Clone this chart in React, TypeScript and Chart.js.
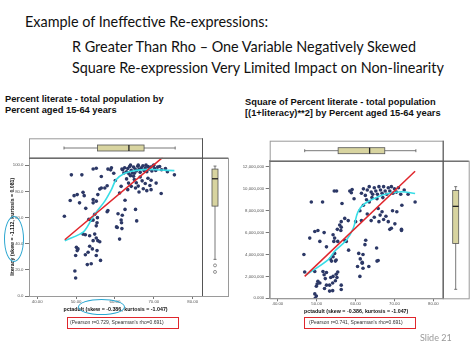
import React, { useEffect, useRef } from "react";
import { Chart, registerables } from "chart.js";
Chart.register(...registerables);

// ---------- data ----------
const xTicks = [40, 50, 60, 70, 80];
const leftYTicks = [0, 20, 40, 60, 80, 100];
const rightYTicks = [0, 2000000, 4000000, 6000000, 8000000, 10000000, 12000000];

// pctadult (x) vs literacy (y)
const leftPoints: number[][] = [
  [47.0, 61.0], [49.7, 19.1], [49.9, 13.8], [49.9, 30.9], [50.1, 37.2], [50.5, 36.0], [50.3, 34.7],
  [51.8, 47.3], [52.4, 46.8], [53.5, 46.0], [54.8, 47.3], [55.2, 44.3], [54.4, 42.3], [55.6, 42.3],
  [56.1, 41.5], [53.5, 38.0], [54.2, 36.0], [55.4, 34.7], [53.1, 33.4], [52.4, 31.5], [55.2, 30.9],
  [56.3, 27.2], [52.9, 24.0], [53.9, 24.7], [55.2, 53.6], [55.4, 56.0], [54.4, 58.0],
  [60.6, 52.3], [61.8, 51.5], [61.2, 43.5], [60.4, 52.8], [61.7, 56.0], [65.6, 57.4], [58.0, 64.4],
  [60.8, 62.9], [61.9, 61.7], [61.6, 58.1], [62.6, 66.2], [65.3, 66.2], [58.2, 65.4], [54.8, 62.4],
  [55.5, 59.9], [53.3, 58.6], [53.9, 57.9], [52.5, 67.0],
  [48.5, 73.0], [50.9, 71.2], [50.3, 77.5], [49.5, 76.7], [51.8, 79.2], [52.1, 76.7], [54.4, 73.7],
  [54.4, 71.2], [55.2, 72.5], [55.6, 77.5], [56.1, 81.7], [56.5, 82.5], [58.0, 84.3], [57.4, 82.5],
  [60.1, 88.3], [59.7, 93.8], [56.5, 91.3], [48.8, 92.6], [51.5, 92.6], [54.4, 97.1], [55.2, 97.6],
  [58.2, 97.0], [59.1, 98.0], [58.9, 96.4],
  [62.6, 73.2], [61.2, 78.7], [63.3, 81.3], [63.5, 86.3], [64.2, 83.8], [61.6, 83.8],
  [65.0, 89.0], [65.5, 86.5], [66.0, 84.0], [66.5, 91.0], [67.0, 88.0], [67.3, 82.0], [67.8, 86.0],
  [68.2, 80.5], [68.5, 90.0], [69.0, 84.5], [66.2, 79.5], [65.3, 82.5], [69.3, 88.5], [64.8, 91.5],
  [70.6, 86.3], [69.3, 81.3], [71.9, 78.3], [75.3, 92.6], [63.0, 89.5], [64.0, 92.0],
  [62.0, 96.5], [62.5, 98.0], [63.0, 95.0], [63.3, 97.5], [63.8, 99.0], [64.2, 96.0], [64.5, 94.0],
  [64.8, 98.5], [65.2, 97.0], [65.5, 95.5], [65.9, 99.2], [66.2, 96.8], [66.5, 94.5], [66.8, 98.0],
  [67.2, 99.5], [67.5, 96.0], [67.8, 97.8], [68.2, 95.0], [68.5, 99.0], [68.8, 97.0], [69.2, 98.5],
  [69.5, 95.5], [69.8, 99.3], [70.2, 97.5], [70.5, 96.0], [71.0, 98.5], [71.5, 99.0], [72.0, 96.5],
  [73.0, 97.5], [73.5, 95.0], [62.3, 94.0], [63.6, 93.5], [65.0, 93.8], [66.0, 100.0], [68.0, 100.0],
  [70.0, 100.0], [64.0, 100.0], [61.8, 97.0],
];
const leftFit: number[][] = [[47.1, 43.0], [72.3, 106.0]];
const leftLoess: number[][] = [
  [47.1, 42.3], [51.0, 47.3], [52.2, 49.8], [54.8, 62.4], [57.4, 72.5], [59.1, 81.3], [60.3, 88.8],
  [62.5, 93.8], [65.0, 95.8], [68.5, 96.8], [71.9, 96.3], [75.3, 95.8],
];

// pctadult (x) vs (1+literacy)**2 (y)
const rightPoints: number[][] = [
  [46.7, 4.0e6], [46.9, 2.4e6], [48.2, 5.5e6], [49.5, 6.1e6], [50.3, 6.2e6], [51.9, 6.0e6], [50.8, 5.2e6],
  [52.5, 4.7e6], [54.2, 5.8e6], [54.6, 5.5e6], [54.4, 5.2e6], [55.4, 5.2e6], [56.2, 6.2e6], [57.2, 5.3e6],
  [57.6, 5.2e6], [58.2, 4.4e6], [60.8, 4.1e6], [61.9, 4.0e6], [61.7, 3.2e6], [60.5, 2.9e6], [61.9, 2.75e6],
  [61.1, 2.0e6], [62.6, 5.3e6], [62.4, 4.9e6], [65.4, 4.6e6], [65.8, 3.45e6], [68.8, 6.3e6], [71.8, 6.3e6],
  [53.8, 3.4e6], [54.2, 3.8e6], [54.6, 4.1e6], [55.0, 3.5e6], [53.5, 3.6e6], [54.8, 3.4e6],
  [49.5, 2.45e6], [51.6, 2.45e6], [52.5, 2.36e6], [51.9, 2.15e6], [50.3, 1.55e6], [50.1, 1.3e6],
  [49.9, 1.1e6], [50.8, 1.4e6], [52.2, 1.8e6], [52.5, 1.2e6], [53.3, 1.2e6], [54.1, 1.4e6], [54.8, 1.6e6],
  [55.2, 1.9e6], [54.2, 2.0e6], [55.0, 2.2e6], [55.4, 2.4e6], [56.3, 1.2e6], [53.6, 1.9e6], [52.0, 0.9e6],
  [49.5, 0.4e6], [49.9, 0.2e6], [49.6, 0.0], [53.3, 0.66e6], [54.1, 0.7e6], [56.3, 0.8e6],
  [63.4, 2.9e6], [61.7, 3.3e6], [61.2, 3.6e6], [65.5, 3.4e6],
  [48.6, 8.8e6], [51.5, 8.8e6], [54.5, 9.8e6], [55.1, 9.8e6], [56.5, 8.66e6], [58.5, 9.8e6], [59.1, 9.94e6],
  [58.9, 9.64e6], [59.6, 9.1e6], [61.1, 8.0e6], [60.0, 7.0e6], [75.3, 8.8e6],
  [65.8, 8.2e6], [66.3, 7.6e6], [66.8, 7.9e6], [67.2, 7.2e6], [67.8, 7.5e6], [68.4, 7.0e6], [66.0, 7.0e6],
  [69.2, 6.4e6], [70.1, 6.8e6], [71.8, 6.2e6], [63.0, 7.7e6], [64.0, 7.1e6], [64.8, 7.4e6], [61.5, 7.1e6],
  [57.2, 7.3e6], [58.1, 7.1e6], [56.3, 7.0e6], [55.9, 6.7e6], [55.3, 6.3e6], [56.3, 6.5e6], [62.0, 8.5e6],
  [63.5, 8.8e6], [69.5, 8.0e6], [71.9, 8.5e6], [70.6, 7.9e6],
  [61.5, 9.6e6], [62.0, 10.0e6], [62.5, 9.4e6], [63.0, 9.9e6], [63.5, 10.2e6], [64.0, 9.7e6], [64.4, 9.5e6],
  [64.8, 10.1e6], [65.2, 9.8e6], [65.6, 9.5e6], [66.0, 10.2e6], [66.4, 9.9e6], [66.8, 9.6e6], [67.2, 10.2e6],
  [67.6, 9.8e6], [68.0, 9.5e6], [68.4, 10.1e6], [68.8, 9.8e6], [69.2, 10.2e6], [69.6, 9.6e6], [70.0, 10.0e6],
  [70.5, 9.7e6], [71.0, 10.1e6], [71.6, 9.5e6], [72.5, 9.9e6], [73.5, 9.5e6], [62.8, 9.0e6], [64.2, 9.2e6],
  [65.5, 9.1e6], [67.0, 9.2e6],
];
const rightFit: number[][] = [[46.9, 2.0e6], [75.3, 11.6e6]];
const rightLoess: number[][] = [
  [47.3, 2.15e6], [52.9, 3.5e6], [54.6, 4.3e6], [57.6, 5.3e6], [59.4, 6.4e6], [60.6, 7.9e6],
  [62.4, 8.66e6], [65.8, 9.27e6], [68.4, 9.57e6], [71.8, 9.73e6], [75.3, 9.57e6],
];

// boxplots: [whisker low, Q1, median, Q3, whisker high]
const pctadultBox = [46.9, 55.5, 63.6, 67.5, 75.5];
const literacyBox = [28.0, 68.7, 89.6, 97.0, 99.3];
const literacyOutliers = [23.4, 18.4];
const sqLiteracyBox = [820000, 5000000, 8400000, 9850000, 10200000];
const sqLiteracyOutliers: number[] = [];

// ---------- chart helpers ----------
const FONT = "'Liberation Sans', Arial, sans-serif";
const POINT = "#2c3866";
const RED = "#e0262c";
const CYAN = "#38dde6";
const BOXFILL = "#d8d4a0";

function marginalPlugin(xBox: number[], yBox: number[], yOut: number[], topH: number, sideW: number) {
  return {
    id: "marginal",
    afterDraw(chart: any) {
      const { ctx, chartArea: a, scales } = chart;
      const xs = scales.x, ys = scales.y;
      ctx.save();
      ctx.lineWidth = 1;
      ctx.strokeStyle = "#9a9a9a";
      ctx.strokeRect(a.left + 0.5, a.top - topH + 0.5, a.right - a.left, topH);
      ctx.strokeRect(a.right + 0.5, a.top + 0.5, sideW, a.bottom - a.top);
      ctx.strokeRect(a.left + 0.5, a.top + 0.5, a.right - a.left, a.bottom - a.top);
      ctx.strokeStyle = "#555";
      ctx.beginPath();
      ctx.moveTo(a.left, a.top + 0.5);
      ctx.lineTo(a.right + sideW, a.top + 0.5);
      ctx.moveTo(a.right + 0.5, a.top - topH);
      ctx.lineTo(a.right + 0.5, a.bottom);
      ctx.stroke();

      // top (x) boxplot
      const cy = a.top - topH / 2;
      const px = (v: number) => xs.getPixelForValue(v);
      ctx.strokeStyle = "#555";
      ctx.lineWidth = 0.8;
      ctx.beginPath();
      ctx.moveTo(px(xBox[0]), cy);
      ctx.lineTo(px(xBox[4]), cy);
      ctx.moveTo(px(xBox[0]), cy - 1.5);
      ctx.lineTo(px(xBox[0]), cy + 1.5);
      ctx.moveTo(px(xBox[4]), cy - 1.5);
      ctx.lineTo(px(xBox[4]), cy + 1.5);
      ctx.stroke();
      ctx.fillStyle = BOXFILL;
      ctx.fillRect(px(xBox[1]), cy - 3, px(xBox[3]) - px(xBox[1]), 6);
      ctx.strokeRect(px(xBox[1]), cy - 3, px(xBox[3]) - px(xBox[1]), 6);
      ctx.lineWidth = 1.3;
      ctx.strokeStyle = "#222";
      ctx.beginPath();
      ctx.moveTo(px(xBox[2]), cy - 3);
      ctx.lineTo(px(xBox[2]), cy + 3);
      ctx.stroke();

      // side (y) boxplot
      const cx = a.right + sideW / 2;
      const py = (v: number) => ys.getPixelForValue(v);
      ctx.strokeStyle = "#555";
      ctx.lineWidth = 0.8;
      ctx.beginPath();
      ctx.moveTo(cx, py(yBox[0]));
      ctx.lineTo(cx, py(yBox[4]));
      ctx.moveTo(cx - 1.5, py(yBox[0]));
      ctx.lineTo(cx + 1.5, py(yBox[0]));
      ctx.moveTo(cx - 1.5, py(yBox[4]));
      ctx.lineTo(cx + 1.5, py(yBox[4]));
      ctx.stroke();
      ctx.fillStyle = BOXFILL;
      ctx.fillRect(cx - 3, py(yBox[3]), 6, py(yBox[1]) - py(yBox[3]));
      ctx.strokeRect(cx - 3, py(yBox[3]), 6, py(yBox[1]) - py(yBox[3]));
      ctx.lineWidth = 1.3;
      ctx.strokeStyle = "#222";
      ctx.beginPath();
      ctx.moveTo(cx - 3, py(yBox[2]));
      ctx.lineTo(cx + 3, py(yBox[2]));
      ctx.stroke();
      ctx.lineWidth = 0.7;
      ctx.strokeStyle = "#666";
      for (const o of yOut) {
        ctx.beginPath();
        ctx.arc(cx, py(o), 1.5, 0, Math.PI * 2);
        ctx.stroke();
      }
      ctx.restore();
    },
  };
}

type PanelProps = {
  left: number;
  top: number;
  points: number[][];
  fit: number[][];
  loess: number[][];
  yTicks: number[];
  yMax: number;
  yLabel: (v: number) => string;
  yTitle: string;
  yAxisWidth: number;
  padTop: number;
  padRight: number;
  padBottom: number;
  xAxisHeight: number;
  xBox: number[];
  yBox: number[];
  yOut: number[];
  topH: number;
  sideW: number;
};

function ScatterPanel(p: PanelProps) {
  const ref = useRef<HTMLCanvasElement>(null);
  useEffect(() => {
    const toXY = (arr: number[][]) => arr.map(([x, y]) => ({ x, y }));
    const tickFont = { family: FONT, size: 4.3 };
    const chart = new Chart(ref.current!, {
      type: "scatter",
      data: {
        datasets: [
          { data: toXY(p.fit), showLine: true, borderColor: RED, borderWidth: 1.5, pointRadius: 0 },
          { data: toXY(p.loess), showLine: true, borderColor: CYAN, borderWidth: 1.6, pointRadius: 0, tension: 0.35 },
          { data: toXY(p.points), pointRadius: 1.8, backgroundColor: POINT, borderWidth: 0 },
        ],
      } as any,
      options: {
        animation: false,
        responsive: false,
        maintainAspectRatio: false,
        layout: { padding: { left: 0, top: p.padTop, right: p.padRight, bottom: p.padBottom } },
        plugins: { legend: { display: false }, tooltip: { enabled: false } },
        scales: {
          x: {
            type: "linear",
            min: 37.9,
            max: 82.4,
            afterBuildTicks: (s: any) => {
              s.ticks = xTicks.map((v) => ({ value: v }));
            },
            afterFit: (s: any) => {
              s.height = p.xAxisHeight;
            },
            ticks: {
              font: tickFont,
              color: "#555",
              padding: 0,
              maxRotation: 0,
              callback: (v: any) => Number(v).toFixed(2),
            },
            grid: { display: true, drawOnChartArea: false, tickLength: 3, color: "#777" },
            border: { display: true, color: "#9a9a9a" },
            title: {
              display: true,
              text: "pctadult (skew = -0.386, kurtosis = -1.047)",
              font: { family: FONT, size: 5.3, weight: "bold" },
              color: "#111",
              padding: { top: 0, bottom: 0 },
            },
          },
          y: {
            type: "linear",
            min: 0,
            max: p.yMax,
            afterBuildTicks: (s: any) => {
              s.ticks = p.yTicks.map((v) => ({ value: v }));
            },
            afterFit: (s: any) => {
              s.width = p.yAxisWidth;
            },
            ticks: {
              font: tickFont,
              color: "#555",
              padding: 1.5,
              callback: (v: any) => p.yLabel(Number(v)),
            },
            grid: { display: true, drawOnChartArea: false, tickLength: 4, color: "#777" },
            border: { display: true, color: "#9a9a9a" },
            title: {
              display: p.yTitle !== "",
              text: p.yTitle,
              font: { family: FONT, size: 5.2, weight: "bold" },
              color: "#111",
              padding: { top: 9, bottom: 0 },
            },
          },
        },
      } as any,
      plugins: [marginalPlugin(p.xBox, p.yBox, p.yOut, p.topH, p.sideW)],
    });
    return () => chart.destroy();
  }, []);
  return (
    <canvas
      ref={ref}
      width={237}
      height={195}
      style={{ position: "absolute", left: p.left, top: p.top, width: 237, height: 195 }}
    />
  );
}

const abs = (o: React.CSSProperties): React.CSSProperties => ({ position: "absolute", margin: 0, whiteSpace: "nowrap", ...o });

export default function App() {
  const slideFont = "Lato, 'Open Sans', sans-serif";
  const slideText: React.CSSProperties = { fontFamily: slideFont, fontSize: 14.4, color: "#111", lineHeight: "20px" };
  const titleStyle: React.CSSProperties = { fontFamily: FONT, fontWeight: "bold", fontSize: 9.3, color: "#111", lineHeight: "10.8px" };
  const pearsonStyle: React.CSSProperties = { fontFamily: FONT, fontSize: 5, color: "#333", lineHeight: "9px" };
  return (
    <div style={{ position: "absolute", left: 0, top: 0, width: 474, height: 355, background: "#fff", overflow: "hidden" }}>
      <div style={abs({ left: 25, top: 12, ...slideText })}>Example of Ineffective Re-expressions:</div>
      <div style={abs({ left: 72, top: 37, ...slideText })}>R Greater Than Rho – One Variable Negatively Skewed</div>
      <div style={abs({ left: 72, top: 58, ...slideText })}>Square Re-expression Very Limited Impact on Non-linearity</div>

      <div style={abs({ left: 5, top: 94, ...titleStyle })}>
        Percent literate - total population by
        <br />
        Percent aged 15-64 years
      </div>
      <div style={abs({ left: 245, top: 97, ...titleStyle })}>
        Square of Percent literate - total population
        <br />
        [(1+literacy)**2] by Percent aged 15-64 years
      </div>

      <ScatterPanel
        left={0}
        top={130}
        points={leftPoints}
        fit={leftFit}
        loess={leftLoess}
        yTicks={leftYTicks}
        yMax={105.7}
        yLabel={(v) => v.toFixed(1)}
        yTitle="literacy (skew = -1.112, kurtosis = 0.081)"
        yAxisWidth={29}
        padTop={27.7}
        padRight={35}
        padBottom={11.8}
        xAxisHeight={17.2}
        xBox={pctadultBox}
        yBox={literacyBox}
        yOut={literacyOutliers}
        topH={19.4}
        sideW={26}
      />
      <ScatterPanel
        left={237}
        top={130}
        points={rightPoints}
        fit={rightFit}
        loess={rightLoess}
        yTicks={rightYTicks}
        yMax={12570000}
        yLabel={(v) => (v === 0 ? "0.000" : v.toLocaleString("en-US"))}
        yTitle=""
        yAxisWidth={32.7}
        padTop={30.7}
        padRight={31.3}
        padBottom={10.1}
        xAxisHeight={16.6}
        xBox={pctadultBox}
        yBox={sqLiteracyBox}
        yOut={sqLiteracyOutliers}
        topH={20}
        sideW={26}
      />

      <div style={abs({ left: 4, top: 216, width: 20, height: 46, border: "1.5px solid #2aa6d0", borderRadius: "50%", boxSizing: "border-box" })} />
      <div style={abs({ left: 78, top: 299, width: 47, height: 16, border: "1.5px solid #2aa6d0", borderRadius: "50%", boxSizing: "border-box" })} />

      <div style={abs({ left: 67, top: 317, width: 112, height: 12, border: "1.5px solid #e0262c", boxSizing: "border-box", paddingLeft: 2, ...pearsonStyle })}>
        (Pearson r=0.729, Spearman's rho=0.691)
      </div>
      <div style={abs({ left: 304, top: 317, width: 112, height: 12, border: "1.5px solid #e0262c", boxSizing: "border-box", paddingLeft: 4, ...pearsonStyle })}>
        (Pearson r=0.741, Spearman's rho=0.691)
      </div>

      <div style={abs({ left: 420, top: 331, fontFamily: slideFont, fontSize: 9, color: "#999", lineHeight: "14px" })}>Slide 21</div>
    </div>
  );
}
